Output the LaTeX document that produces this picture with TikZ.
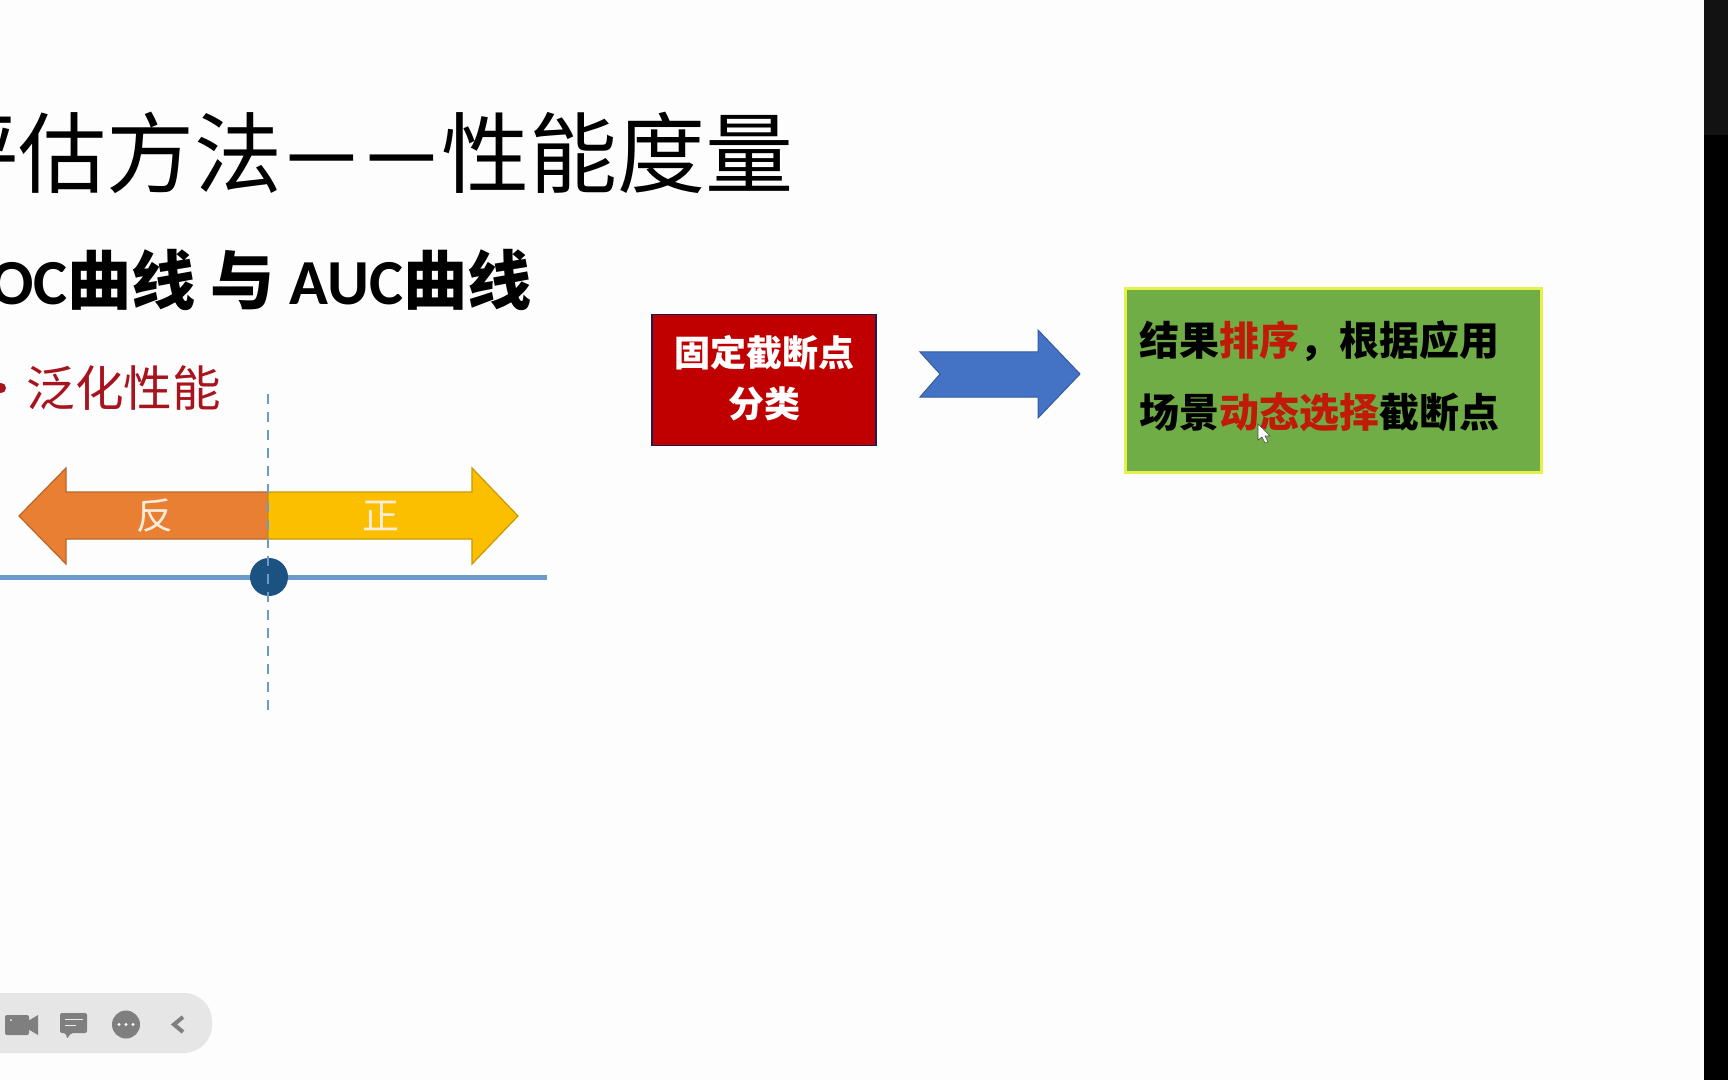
\documentclass[tikz,border=0pt]{standalone}
\usepackage{fontspec}
\setmainfont{Noto Sans CJK SC}
\newfontfamily\latinbf[BoldFont={Carlito Bold}]{Carlito}
\usetikzlibrary{positioning}
\definecolor{pagewhite}{HTML}{FDFDFD}
\definecolor{barblack}{HTML}{000000}
\definecolor{bardark}{HTML}{121212}
\definecolor{boxred}{HTML}{C00000}
\definecolor{boxedge}{HTML}{1F1B50}
\definecolor{boxgreen}{HTML}{70AD47}
\definecolor{boxyellow}{HTML}{E6F04A}
\definecolor{hotred}{HTML}{C01A08}
\definecolor{arrowblue}{HTML}{4472C4}
\definecolor{lineblue}{HTML}{6A9BCB}
\definecolor{dotblue}{HTML}{1F5B90}
\definecolor{leftorange}{HTML}{E97F32}
\definecolor{rightgold}{HTML}{FBBF00}
\definecolor{pointred}{HTML}{A8141E}
\definecolor{toolgray}{HTML}{7F7F7F}
\definecolor{toolbg}{HTML}{E6E6E6}
\tikzset{
  headline/.style={font=\fontsize{44}{44}\selectfont,text=black,inner sep=0pt},
  subline/.style={font=\fontsize{32.1}{32.1}\selectfont\bfseries,text=black,inner sep=0pt},
  arrowword/.style={font=\fontsize{18.5}{18.5}\selectfont,text=orange!15,inner sep=0pt},
  toolicon/.style={fill=toolgray,draw=none},
}
\newcommand{\hot}[1]{{\color{hotred}#1}}
\newcommand{\gapdash}{\makebox[0.905em]{\scalebox{0.9}[1.15]{—}}}
\begin{document}
\begin{tikzpicture}[x=0.5pt,y=-0.5pt]
\useasboundingbox (0,0) rectangle (1728,1080);
\clip (0,0) rectangle (1728,1080);
\fill[pagewhite] (0,0) rectangle (1728,1080);
\fill[barblack] (1704,0) rectangle (1728,1080);
\fill[bardark] (1704,0) rectangle (1728,135);

\node[headline,anchor=east] (title) at (794,153) {评估方法\gapdash\gapdash 性能度量};
\node[subline,anchor=east] (subtitle) at (532,280) {{\latinbf ROC}曲线 与 {\latinbf AUC}曲线};

\fill[pointred] (1,388) circle (5);
\node[anchor=west,inner sep=0pt,text=pointred,font=\fontsize{24.3}{24.3}\selectfont] (point) at (26,388) {泛化性能};

% double arrow
\def\ym{516}
\filldraw[fill=leftorange,draw=leftorange!80!black,line width=0.6pt]
  (268,492)--(66,492)--(66,468)--(19,\ym)--(66,564)--(66,539)--(268,539)--cycle;
\filldraw[fill=rightgold,draw=rightgold!80!black,line width=0.6pt]
  (268,492)--(472,492)--(472,468)--(518,\ym)--(472,564)--(472,539)--(268,539)--cycle;
\node[arrowword] (neg) at (155,\ym) {反};
\node[arrowword] (pos) at (381,\ym) {正};

% axis and threshold
\coordinate (axisl) at (0,577);
\coordinate (axisr) at (547,577);
\coordinate (cuttop) at (268,394);
\coordinate (cutbot) at (268,711);
\draw[lineblue,line width=2.5pt] (axisl)--(axisr);
\node[circle,fill=dotblue!90!black,minimum size=19pt,inner sep=0pt] (cut) at (269,577) {};
\draw[lineblue,line width=1pt,dash pattern=on 5pt off 4pt] (cuttop)--(cutbot);

% boxes
\node[draw=boxedge,fill=boxred,line width=0.7pt,minimum width=112pt,minimum height=65.5pt,inner sep=0pt] (fixed) at (764,380) {};
\node[inner sep=0pt,text=white,align=center,font=\fontsize{18}{25.5}\selectfont\bfseries] (fixedtext)
  at (764,378) {固定截断点\\分类};
\filldraw[fill=arrowblue,draw=arrowblue!80!black,line width=0.5pt]
  (920,352)--(1038,352)--(1038,330)--(1080,374)--(1038,418)--(1038,397)--(920,397)--(940,374)--cycle;
\node[draw=boxyellow,fill=boxgreen,line width=1.2pt,minimum width=208pt,minimum height=92pt,inner sep=0pt] (ranked) at (1333.5,380.5) {};
\node[anchor=west,inner sep=0pt,text=black,align=left,font=\fontsize{20}{35.8}\selectfont\bfseries] (rankedtext)
  at (1139,376.5) {结果\hot{排序}，根据应用\\场景\hot{动态选择}截断点};

% cursor
\filldraw[fill=white,draw=black!70,line width=0.3pt]
  (1258,424)--(1258,440)--(1262,437)--(1265,443)--(1268,442)--(1265,436)--(1270,436)--cycle;

% toolbar
\fill[toolbg,rounded corners=14pt] (-40,993) rectangle (212,1053);
\fill[toolicon,rounded corners=1pt] (5,1015) rectangle (29,1035);
\fill[toolicon] (28,1021)--(38,1015)--(38,1035)--(28,1029)--cycle;
\fill[white] (11,1020) circle (1);
\fill[toolicon,rounded corners=1pt] (60,1013)--(87,1013)--(87,1033)--(71,1033)--(67,1039)--(66,1033)--(60,1033)--cycle;
\draw[white!85!gray,line width=0.5pt] (65,1019)--(83,1019) (65,1025)--(76,1025);
\node[circle,fill=toolgray,minimum size=14pt,inner sep=0pt] (more) at (126,1024.5) {};
\foreach \d in {119,126,133}{
  \fill[white] (\d,1024.5) circle (1.6);
}
\draw[toolgray,line width=2pt] (183,1017)--(174,1024.5)--(183,1032);
\end{tikzpicture}
\end{document}
